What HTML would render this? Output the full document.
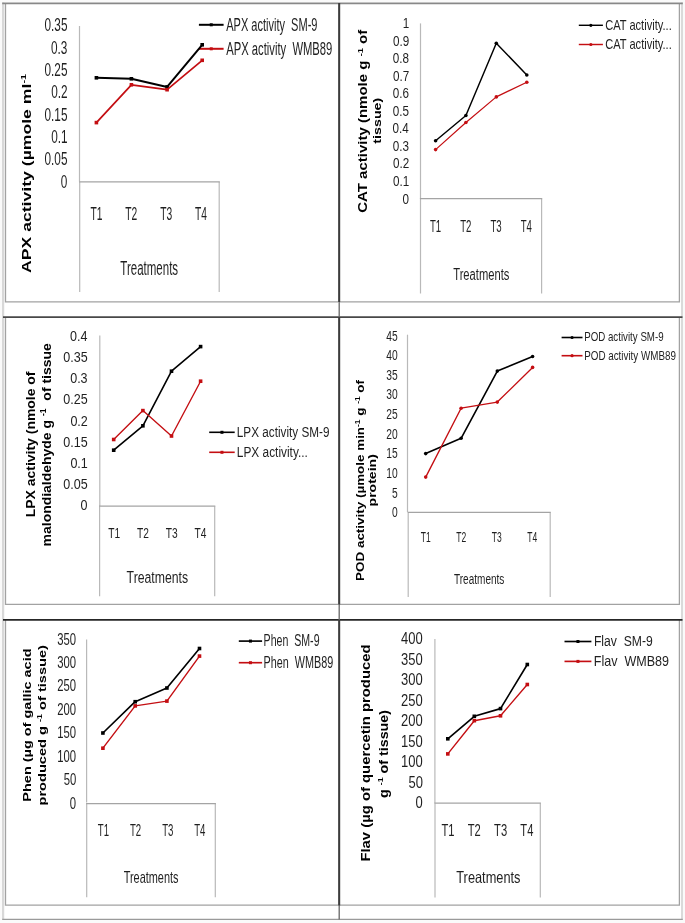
<!DOCTYPE html>
<html><head><meta charset="utf-8"><title>Antioxidant enzyme activity charts</title>
<style>html,body{margin:0;padding:0;background:#fafafa;}svg{display:block}</style></head>
<body><svg width="685" height="923" viewBox="0 0 685 923">
<rect x="2" y="2" width="681" height="918" fill="#fff"/>
<line x1="3.1" y1="2.5" x2="3.1" y2="919.5" stroke="#d8d8d8" stroke-width="2.2"/>
<line x1="682" y1="2.5" x2="682" y2="919.5" stroke="#d6d6d6" stroke-width="1.8"/>
<line x1="2.2" y1="919.3" x2="682.8" y2="919.3" stroke="#9a9a9a" stroke-width="1.3"/>
<!-- chart borders -->
<g fill="none" stroke-width="1.3">
<path d="M5.5,3.5 V301.8 H338.5" stroke="#a2a2a2"/>
<path d="M340,301.8 H679.4 V3.5" stroke="#a2a2a2"/>
<path d="M5.5,317.5 V604.3 H338.5" stroke="#a2a2a2"/>
<path d="M340,604.3 H679.4 V317.5" stroke="#a2a2a2"/>
<path d="M5.5,620 V905.2 H338.5" stroke="#a2a2a2"/>
<path d="M340,905.2 H679.4 V620" stroke="#a2a2a2"/>
</g>
<!-- table lines -->
<line x1="2.2" y1="3.4" x2="682.8" y2="3.4" stroke="#888" stroke-width="1.7"/>
<line x1="3" y1="317.2" x2="682.5" y2="317.2" stroke="#484848" stroke-width="1.8"/>
<line x1="3" y1="619.8" x2="682.5" y2="619.8" stroke="#262626" stroke-width="1.8"/>
<line x1="339.2" y1="3" x2="339.2" y2="919.5" stroke="#666" stroke-width="1.3"/>
<g stroke="#3c3c3c" stroke-width="2">
<line x1="339.2" y1="3" x2="339.2" y2="302"/>
<line x1="339.2" y1="317" x2="339.2" y2="604.5"/>
<line x1="339.2" y1="620" x2="339.2" y2="905.5"/>
</g>

<g id="c1"><text transform="translate(44.51,31.17) scale(0.6548,1)" font-family="'Liberation Sans', sans-serif" font-size="18.000" fill="#1f1f1f" style="white-space:pre"><tspan>0.35</tspan></text><text transform="translate(50.99,53.54) scale(0.6548,1)" font-family="'Liberation Sans', sans-serif" font-size="18.000" fill="#1f1f1f" style="white-space:pre"><tspan>0.3</tspan></text><text transform="translate(44.51,75.92) scale(0.6548,1)" font-family="'Liberation Sans', sans-serif" font-size="18.000" fill="#1f1f1f" style="white-space:pre"><tspan>0.25</tspan></text><text transform="translate(51.19,98.30) scale(0.6548,1)" font-family="'Liberation Sans', sans-serif" font-size="18.000" fill="#1f1f1f" style="white-space:pre"><tspan>0.2</tspan></text><text transform="translate(44.51,120.68) scale(0.6548,1)" font-family="'Liberation Sans', sans-serif" font-size="18.000" fill="#1f1f1f" style="white-space:pre"><tspan>0.15</tspan></text><text transform="translate(51.19,143.05) scale(0.6548,1)" font-family="'Liberation Sans', sans-serif" font-size="18.000" fill="#1f1f1f" style="white-space:pre"><tspan>0.1</tspan></text><text transform="translate(44.51,165.43) scale(0.6548,1)" font-family="'Liberation Sans', sans-serif" font-size="18.000" fill="#1f1f1f" style="white-space:pre"><tspan>0.05</tspan></text><text transform="translate(60.81,187.81) scale(0.6548,1)" font-family="'Liberation Sans', sans-serif" font-size="18.000" fill="#1f1f1f" style="white-space:pre"><tspan>0</tspan></text><text transform="translate(90.43,219.90) scale(0.5571,1)" font-family="'Liberation Sans', sans-serif" font-size="18.439" fill="#1f1f1f" style="white-space:pre"><tspan>T1</tspan></text><text transform="translate(125.30,219.90) scale(0.5571,1)" font-family="'Liberation Sans', sans-serif" font-size="18.439" fill="#1f1f1f" style="white-space:pre"><tspan>T2</tspan></text><text transform="translate(160.18,219.90) scale(0.5571,1)" font-family="'Liberation Sans', sans-serif" font-size="18.439" fill="#1f1f1f" style="white-space:pre"><tspan>T3</tspan></text><text transform="translate(194.97,219.90) scale(0.5571,1)" font-family="'Liberation Sans', sans-serif" font-size="18.439" fill="#1f1f1f" style="white-space:pre"><tspan>T4</tspan></text><text transform="translate(120.31,274.70) scale(0.5917,1)" font-family="'Liberation Sans', sans-serif" font-size="19.463" fill="#1f1f1f" style="white-space:pre"><tspan>Treatments</tspan></text><text transform="translate(226.20,30.60) scale(0.6029,1)" font-family="'Liberation Sans', sans-serif" font-size="18.293" fill="#1f1f1f" style="white-space:pre"><tspan>APX activity  SM-9</tspan></text><line x1="198.9" y1="24.8" x2="223.6" y2="24.8" stroke="#000" stroke-width="2.0"/><rect x="209.75" y="23.3" width="3" height="3" fill="#000"/><text transform="translate(226.20,55.40) scale(0.6298,1)" font-family="'Liberation Sans', sans-serif" font-size="17.854" fill="#1f1f1f" style="white-space:pre"><tspan>APX activity  WMB89</tspan></text><line x1="198.9" y1="48.8" x2="223.6" y2="48.8" stroke="#c40e12" stroke-width="2.0"/><rect x="209.75" y="47.3" width="3" height="3" fill="#c40e12"/><text transform="translate(30.90,272.99) rotate(-90) scale(1.4170,1)" font-family="'Liberation Sans', sans-serif" font-weight="bold" font-size="12.439" fill="#000" style="white-space:pre"><tspan>APX activity (µmole ml</tspan><tspan font-size="7.712" dy="-4.478">-1</tspan></text><line x1="79.5" y1="26" x2="79.5" y2="181.7" stroke="#b9b9b9" stroke-width="1.2"/><path d="M79.7,292 V181.8 M219.2,181.8 V292" fill="none" stroke="#b9b9b9" stroke-width="1.2"/><line x1="79.10000000000001" y1="181.8" x2="219.79999999999998" y2="181.8" stroke="#a4a4a4" stroke-width="1.3"/><polyline points="96.4,77.8 131.4,78.8 167.1,86.9 202.2,44.8" fill="none" stroke="#000" stroke-width="2.00" stroke-linejoin="round"/><rect x="94.60000000000001" y="76.0" width="3.6" height="3.6" fill="#000"/><rect x="129.6" y="77.0" width="3.6" height="3.6" fill="#000"/><rect x="165.29999999999998" y="85.10000000000001" width="3.6" height="3.6" fill="#000"/><rect x="200.39999999999998" y="43.0" width="3.6" height="3.6" fill="#000"/><polyline points="96.4,122.6 131.4,84.8 167.1,89.7 202.2,60.3" fill="none" stroke="#c40e12" stroke-width="1.70" stroke-linejoin="round"/><rect x="94.60000000000001" y="120.8" width="3.6" height="3.6" fill="#c40e12"/><rect x="129.6" y="83.0" width="3.6" height="3.6" fill="#c40e12"/><rect x="165.29999999999998" y="87.9" width="3.6" height="3.6" fill="#c40e12"/><rect x="200.39999999999998" y="58.5" width="3.6" height="3.6" fill="#c40e12"/></g><g id="c2"><text transform="translate(402.75,28.21) scale(0.7833,1)" font-family="'Liberation Sans', sans-serif" font-size="14.927" fill="#1f1f1f" style="white-space:pre"><tspan>1</tspan></text><text transform="translate(393.01,45.74) scale(0.7833,1)" font-family="'Liberation Sans', sans-serif" font-size="14.927" fill="#1f1f1f" style="white-space:pre"><tspan>0.9</tspan></text><text transform="translate(392.82,63.27) scale(0.7833,1)" font-family="'Liberation Sans', sans-serif" font-size="14.927" fill="#1f1f1f" style="white-space:pre"><tspan>0.8</tspan></text><text transform="translate(393.01,80.81) scale(0.7833,1)" font-family="'Liberation Sans', sans-serif" font-size="14.927" fill="#1f1f1f" style="white-space:pre"><tspan>0.7</tspan></text><text transform="translate(392.82,98.34) scale(0.7833,1)" font-family="'Liberation Sans', sans-serif" font-size="14.927" fill="#1f1f1f" style="white-space:pre"><tspan>0.6</tspan></text><text transform="translate(392.82,115.87) scale(0.7833,1)" font-family="'Liberation Sans', sans-serif" font-size="14.927" fill="#1f1f1f" style="white-space:pre"><tspan>0.5</tspan></text><text transform="translate(392.62,133.41) scale(0.7833,1)" font-family="'Liberation Sans', sans-serif" font-size="14.927" fill="#1f1f1f" style="white-space:pre"><tspan>0.4</tspan></text><text transform="translate(392.82,150.94) scale(0.7833,1)" font-family="'Liberation Sans', sans-serif" font-size="14.927" fill="#1f1f1f" style="white-space:pre"><tspan>0.3</tspan></text><text transform="translate(393.01,168.47) scale(0.7833,1)" font-family="'Liberation Sans', sans-serif" font-size="14.927" fill="#1f1f1f" style="white-space:pre"><tspan>0.2</tspan></text><text transform="translate(393.01,186.00) scale(0.7833,1)" font-family="'Liberation Sans', sans-serif" font-size="14.927" fill="#1f1f1f" style="white-space:pre"><tspan>0.1</tspan></text><text transform="translate(402.56,203.54) scale(0.7833,1)" font-family="'Liberation Sans', sans-serif" font-size="14.927" fill="#1f1f1f" style="white-space:pre"><tspan>0</tspan></text><text transform="translate(429.94,232.10) scale(0.5677,1)" font-family="'Liberation Sans', sans-serif" font-size="16.976" fill="#1f1f1f" style="white-space:pre"><tspan>T1</tspan></text><text transform="translate(460.21,232.10) scale(0.5677,1)" font-family="'Liberation Sans', sans-serif" font-size="16.976" fill="#1f1f1f" style="white-space:pre"><tspan>T2</tspan></text><text transform="translate(490.49,232.10) scale(0.5677,1)" font-family="'Liberation Sans', sans-serif" font-size="16.976" fill="#1f1f1f" style="white-space:pre"><tspan>T3</tspan></text><text transform="translate(520.68,232.10) scale(0.5677,1)" font-family="'Liberation Sans', sans-serif" font-size="16.976" fill="#1f1f1f" style="white-space:pre"><tspan>T4</tspan></text><text transform="translate(453.21,279.60) scale(0.6483,1)" font-family="'Liberation Sans', sans-serif" font-size="17.268" fill="#1f1f1f" style="white-space:pre"><tspan>Treatments</tspan></text><text transform="translate(605.14,30.10) scale(0.7233,1)" font-family="'Liberation Sans', sans-serif" font-size="15.366" fill="#1f1f1f" style="white-space:pre"><tspan>CAT activity...</tspan></text><line x1="578.8" y1="25.3" x2="602.9" y2="25.3" stroke="#000" stroke-width="1.45"/><circle cx="590.8499999999999" cy="25.3" r="1.6" fill="#000"/><text transform="translate(605.14,49.30) scale(0.7519,1)" font-family="'Liberation Sans', sans-serif" font-size="14.780" fill="#1f1f1f" style="white-space:pre"><tspan>CAT activity...</tspan></text><line x1="578.8" y1="44.5" x2="602.9" y2="44.5" stroke="#c40e12" stroke-width="1.45"/><circle cx="590.8499999999999" cy="44.5" r="1.6" fill="#c40e12"/><text transform="translate(367.00,212.75) rotate(-90) scale(1.2503,1)" font-family="'Liberation Sans', sans-serif" font-weight="bold" font-size="12.000" fill="#000" style="white-space:pre"><tspan>CAT activity (nmole g </tspan><tspan font-size="7.440" dy="-4.320">-1</tspan><tspan dy="4.320"> of</tspan></text><text transform="translate(380.80,143.64) rotate(-90) scale(1.4163,1)" font-family="'Liberation Sans', sans-serif" font-weight="bold" font-size="10.065" fill="#000" style="white-space:pre"><tspan>tissue)</tspan></text><line x1="420.5" y1="23.4" x2="420.5" y2="198.4" stroke="#b9b9b9" stroke-width="1.2"/><path d="M420.5,293.4 V198.6 M541.6,198.6 V293.4" fill="none" stroke="#b9b9b9" stroke-width="1.2"/><line x1="419.9" y1="198.6" x2="542.2" y2="198.6" stroke="#a4a4a4" stroke-width="1.3"/><polyline points="435.6,140.7 465.9,115.5 496.3,43.2 526.8,75" fill="none" stroke="#000" stroke-width="1.45" stroke-linejoin="round"/><circle cx="435.6" cy="140.7" r="1.8" fill="#000"/><circle cx="465.9" cy="115.5" r="1.8" fill="#000"/><circle cx="496.3" cy="43.2" r="1.8" fill="#000"/><circle cx="526.8" cy="75" r="1.8" fill="#000"/><polyline points="435.6,149.6 465.9,122.5 496.3,96.9 526.8,82.2" fill="none" stroke="#c40e12" stroke-width="1.23" stroke-linejoin="round"/><circle cx="435.6" cy="149.6" r="1.8" fill="#c40e12"/><circle cx="465.9" cy="122.5" r="1.8" fill="#c40e12"/><circle cx="496.3" cy="96.9" r="1.8" fill="#c40e12"/><circle cx="526.8" cy="82.2" r="1.8" fill="#c40e12"/></g><g id="c3"><text transform="translate(69.97,340.92) scale(0.8831,1)" font-family="'Liberation Sans', sans-serif" font-size="14.195" fill="#1f1f1f" style="white-space:pre"><tspan>0.4</tspan></text><text transform="translate(63.28,362.10) scale(0.8831,1)" font-family="'Liberation Sans', sans-serif" font-size="14.195" fill="#1f1f1f" style="white-space:pre"><tspan>0.35</tspan></text><text transform="translate(70.18,383.27) scale(0.8831,1)" font-family="'Liberation Sans', sans-serif" font-size="14.195" fill="#1f1f1f" style="white-space:pre"><tspan>0.3</tspan></text><text transform="translate(63.28,404.45) scale(0.8831,1)" font-family="'Liberation Sans', sans-serif" font-size="14.195" fill="#1f1f1f" style="white-space:pre"><tspan>0.25</tspan></text><text transform="translate(70.39,425.63) scale(0.8831,1)" font-family="'Liberation Sans', sans-serif" font-size="14.195" fill="#1f1f1f" style="white-space:pre"><tspan>0.2</tspan></text><text transform="translate(63.28,446.80) scale(0.8831,1)" font-family="'Liberation Sans', sans-serif" font-size="14.195" fill="#1f1f1f" style="white-space:pre"><tspan>0.15</tspan></text><text transform="translate(70.39,467.98) scale(0.8831,1)" font-family="'Liberation Sans', sans-serif" font-size="14.195" fill="#1f1f1f" style="white-space:pre"><tspan>0.1</tspan></text><text transform="translate(63.28,489.16) scale(0.8831,1)" font-family="'Liberation Sans', sans-serif" font-size="14.195" fill="#1f1f1f" style="white-space:pre"><tspan>0.05</tspan></text><text transform="translate(80.62,510.33) scale(0.8831,1)" font-family="'Liberation Sans', sans-serif" font-size="14.195" fill="#1f1f1f" style="white-space:pre"><tspan>0</tspan></text><text transform="translate(108.23,537.90) scale(0.6564,1)" font-family="'Liberation Sans', sans-serif" font-size="15.512" fill="#1f1f1f" style="white-space:pre"><tspan>T1</tspan></text><text transform="translate(137.01,537.90) scale(0.6564,1)" font-family="'Liberation Sans', sans-serif" font-size="15.512" fill="#1f1f1f" style="white-space:pre"><tspan>T2</tspan></text><text transform="translate(165.78,537.90) scale(0.6564,1)" font-family="'Liberation Sans', sans-serif" font-size="15.512" fill="#1f1f1f" style="white-space:pre"><tspan>T3</tspan></text><text transform="translate(194.47,537.90) scale(0.6564,1)" font-family="'Liberation Sans', sans-serif" font-size="15.512" fill="#1f1f1f" style="white-space:pre"><tspan>T4</tspan></text><text transform="translate(126.60,582.50) scale(0.7687,1)" font-family="'Liberation Sans', sans-serif" font-size="15.951" fill="#1f1f1f" style="white-space:pre"><tspan>Treatments</tspan></text><text transform="translate(236.82,437.40) scale(0.8358,1)" font-family="'Liberation Sans', sans-serif" font-size="14.049" fill="#1f1f1f" style="white-space:pre"><tspan>LPX activity SM-9</tspan></text><line x1="209.2" y1="432.3" x2="234.7" y2="432.3" stroke="#000" stroke-width="1.6"/><rect x="220.45" y="430.8" width="3" height="3" fill="#000"/><text transform="translate(236.81,457.20) scale(0.8456,1)" font-family="'Liberation Sans', sans-serif" font-size="14.049" fill="#1f1f1f" style="white-space:pre"><tspan>LPX activity...</tspan></text><line x1="209.2" y1="452.3" x2="234.7" y2="452.3" stroke="#c40e12" stroke-width="1.6"/><rect x="220.45" y="450.8" width="3" height="3" fill="#c40e12"/><text transform="translate(34.50,517.23) rotate(-90) scale(1.1489,1)" font-family="'Liberation Sans', sans-serif" font-weight="bold" font-size="12.146" fill="#000" style="white-space:pre"><tspan>LPX activity (nmole of</tspan></text><text transform="translate(50.60,546.43) rotate(-90) scale(1.0539,1)" font-family="'Liberation Sans', sans-serif" font-weight="bold" font-size="13.258" fill="#000" style="white-space:pre"><tspan>malondialdehyde g </tspan><tspan font-size="8.220" dy="-4.773">-1</tspan><tspan dy="4.773">  of tissue</tspan></text><line x1="99.8" y1="335.6" x2="99.8" y2="506.0" stroke="#b9b9b9" stroke-width="1.2"/><path d="M99.6,596.2 V506.2 M214.7,506.2 V596.2" fill="none" stroke="#b9b9b9" stroke-width="1.2"/><line x1="99.0" y1="506.2" x2="215.29999999999998" y2="506.2" stroke="#a4a4a4" stroke-width="1.3"/><polyline points="113.7,450.2 142.9,425.8 171.5,371.2 200.6,346.6" fill="none" stroke="#000" stroke-width="1.60" stroke-linejoin="round"/><rect x="111.9" y="448.4" width="3.6" height="3.6" fill="#000"/><rect x="141.1" y="424.0" width="3.6" height="3.6" fill="#000"/><rect x="169.7" y="369.4" width="3.6" height="3.6" fill="#000"/><rect x="198.79999999999998" y="344.8" width="3.6" height="3.6" fill="#000"/><polyline points="113.7,439.5 142.9,410.6 171.5,436 200.6,381.2" fill="none" stroke="#c40e12" stroke-width="1.36" stroke-linejoin="round"/><rect x="111.9" y="437.7" width="3.6" height="3.6" fill="#c40e12"/><rect x="141.1" y="408.8" width="3.6" height="3.6" fill="#c40e12"/><rect x="169.7" y="434.2" width="3.6" height="3.6" fill="#c40e12"/><rect x="198.79999999999998" y="379.4" width="3.6" height="3.6" fill="#c40e12"/></g><g id="c4"><text transform="translate(386.33,340.53) scale(0.7172,1)" font-family="'Liberation Sans', sans-serif" font-size="14.341" fill="#1f1f1f" style="white-space:pre"><tspan>45</tspan></text><text transform="translate(386.33,360.17) scale(0.7172,1)" font-family="'Liberation Sans', sans-serif" font-size="14.341" fill="#1f1f1f" style="white-space:pre"><tspan>40</tspan></text><text transform="translate(386.33,379.82) scale(0.7172,1)" font-family="'Liberation Sans', sans-serif" font-size="14.341" fill="#1f1f1f" style="white-space:pre"><tspan>35</tspan></text><text transform="translate(386.33,399.46) scale(0.7172,1)" font-family="'Liberation Sans', sans-serif" font-size="14.341" fill="#1f1f1f" style="white-space:pre"><tspan>30</tspan></text><text transform="translate(386.33,419.11) scale(0.7172,1)" font-family="'Liberation Sans', sans-serif" font-size="14.341" fill="#1f1f1f" style="white-space:pre"><tspan>25</tspan></text><text transform="translate(386.33,438.75) scale(0.7172,1)" font-family="'Liberation Sans', sans-serif" font-size="14.341" fill="#1f1f1f" style="white-space:pre"><tspan>20</tspan></text><text transform="translate(386.33,458.40) scale(0.7172,1)" font-family="'Liberation Sans', sans-serif" font-size="14.341" fill="#1f1f1f" style="white-space:pre"><tspan>15</tspan></text><text transform="translate(386.33,478.04) scale(0.7172,1)" font-family="'Liberation Sans', sans-serif" font-size="14.341" fill="#1f1f1f" style="white-space:pre"><tspan>10</tspan></text><text transform="translate(391.99,497.69) scale(0.7172,1)" font-family="'Liberation Sans', sans-serif" font-size="14.341" fill="#1f1f1f" style="white-space:pre"><tspan>5</tspan></text><text transform="translate(391.99,517.33) scale(0.7172,1)" font-family="'Liberation Sans', sans-serif" font-size="14.341" fill="#1f1f1f" style="white-space:pre"><tspan>0</tspan></text><text transform="translate(420.86,542.00) scale(0.5959,1)" font-family="'Liberation Sans', sans-serif" font-size="14.341" fill="#1f1f1f" style="white-space:pre"><tspan>T1</tspan></text><text transform="translate(456.36,542.00) scale(0.5959,1)" font-family="'Liberation Sans', sans-serif" font-size="14.341" fill="#1f1f1f" style="white-space:pre"><tspan>T2</tspan></text><text transform="translate(491.86,542.00) scale(0.5959,1)" font-family="'Liberation Sans', sans-serif" font-size="14.341" fill="#1f1f1f" style="white-space:pre"><tspan>T3</tspan></text><text transform="translate(527.29,542.00) scale(0.5959,1)" font-family="'Liberation Sans', sans-serif" font-size="14.341" fill="#1f1f1f" style="white-space:pre"><tspan>T4</tspan></text><text transform="translate(454.03,583.60) scale(0.6852,1)" font-family="'Liberation Sans', sans-serif" font-size="14.634" fill="#1f1f1f" style="white-space:pre"><tspan>Treatments</tspan></text><text transform="translate(584.19,341.40) scale(0.7826,1)" font-family="'Liberation Sans', sans-serif" font-size="12.439" fill="#1f1f1f" style="white-space:pre"><tspan>POD activity SM-9</tspan></text><line x1="561.6" y1="337.5" x2="582.5" y2="337.5" stroke="#000" stroke-width="1.6"/><circle cx="572.05" cy="337.5" r="1.6" fill="#000"/><text transform="translate(584.18,359.90) scale(0.7469,1)" font-family="'Liberation Sans', sans-serif" font-size="13.171" fill="#1f1f1f" style="white-space:pre"><tspan>POD activity WMB89</tspan></text><line x1="561.6" y1="355.7" x2="582.5" y2="355.7" stroke="#c40e12" stroke-width="1.6"/><circle cx="572.05" cy="355.7" r="1.6" fill="#c40e12"/><text transform="translate(363.60,580.90) rotate(-90) scale(1.2758,1)" font-family="'Liberation Sans', sans-serif" font-weight="bold" font-size="10.537" fill="#000" style="white-space:pre"><tspan>POD activity (µmole min</tspan><tspan font-size="6.533" dy="-3.793">-1</tspan><tspan dy="3.793"> g </tspan><tspan font-size="6.533" dy="-3.793">-1</tspan><tspan dy="3.793"> of</tspan></text><text transform="translate(376.20,506.44) rotate(-90) scale(1.3448,1)" font-family="'Liberation Sans', sans-serif" font-weight="bold" font-size="10.452" fill="#000" style="white-space:pre"><tspan>protein)</tspan></text><line x1="407.5" y1="334.7" x2="407.5" y2="512.0" stroke="#b9b9b9" stroke-width="1.2"/><path d="M408.2,596.9 V512.4 M550.2,512.4 V596.9" fill="none" stroke="#b9b9b9" stroke-width="1.2"/><line x1="407.59999999999997" y1="512.4" x2="550.8000000000001" y2="512.4" stroke="#a4a4a4" stroke-width="1.3"/><polyline points="425.7,453.6 461.1,438.3 497.3,371.1 532.6,356.5" fill="none" stroke="#000" stroke-width="1.60" stroke-linejoin="round"/><circle cx="425.7" cy="453.6" r="1.8" fill="#000"/><circle cx="461.1" cy="438.3" r="1.8" fill="#000"/><circle cx="497.3" cy="371.1" r="1.8" fill="#000"/><circle cx="532.6" cy="356.5" r="1.8" fill="#000"/><polyline points="425.7,477.1 461.1,408.2 497.3,402.1 532.6,367.4" fill="none" stroke="#c40e12" stroke-width="1.36" stroke-linejoin="round"/><circle cx="425.7" cy="477.1" r="1.8" fill="#c40e12"/><circle cx="461.1" cy="408.2" r="1.8" fill="#c40e12"/><circle cx="497.3" cy="402.1" r="1.8" fill="#c40e12"/><circle cx="532.6" cy="367.4" r="1.8" fill="#c40e12"/></g><g id="c5"><text transform="translate(57.23,644.54) scale(0.6777,1)" font-family="'Liberation Sans', sans-serif" font-size="16.683" fill="#1f1f1f" style="white-space:pre"><tspan>350</tspan></text><text transform="translate(57.23,667.99) scale(0.6777,1)" font-family="'Liberation Sans', sans-serif" font-size="16.683" fill="#1f1f1f" style="white-space:pre"><tspan>300</tspan></text><text transform="translate(57.23,691.45) scale(0.6777,1)" font-family="'Liberation Sans', sans-serif" font-size="16.683" fill="#1f1f1f" style="white-space:pre"><tspan>250</tspan></text><text transform="translate(57.23,714.90) scale(0.6777,1)" font-family="'Liberation Sans', sans-serif" font-size="16.683" fill="#1f1f1f" style="white-space:pre"><tspan>200</tspan></text><text transform="translate(57.23,738.35) scale(0.6777,1)" font-family="'Liberation Sans', sans-serif" font-size="16.683" fill="#1f1f1f" style="white-space:pre"><tspan>150</tspan></text><text transform="translate(57.23,761.80) scale(0.6777,1)" font-family="'Liberation Sans', sans-serif" font-size="16.683" fill="#1f1f1f" style="white-space:pre"><tspan>100</tspan></text><text transform="translate(63.64,785.26) scale(0.6777,1)" font-family="'Liberation Sans', sans-serif" font-size="16.683" fill="#1f1f1f" style="white-space:pre"><tspan>50</tspan></text><text transform="translate(69.86,808.71) scale(0.6777,1)" font-family="'Liberation Sans', sans-serif" font-size="16.683" fill="#1f1f1f" style="white-space:pre"><tspan>0</tspan></text><text transform="translate(97.84,835.90) scale(0.5827,1)" font-family="'Liberation Sans', sans-serif" font-size="16.537" fill="#1f1f1f" style="white-space:pre"><tspan>T1</tspan></text><text transform="translate(129.99,835.90) scale(0.5827,1)" font-family="'Liberation Sans', sans-serif" font-size="16.537" fill="#1f1f1f" style="white-space:pre"><tspan>T2</tspan></text><text transform="translate(162.14,835.90) scale(0.5827,1)" font-family="'Liberation Sans', sans-serif" font-size="16.537" fill="#1f1f1f" style="white-space:pre"><tspan>T3</tspan></text><text transform="translate(194.21,835.90) scale(0.5827,1)" font-family="'Liberation Sans', sans-serif" font-size="16.537" fill="#1f1f1f" style="white-space:pre"><tspan>T4</tspan></text><text transform="translate(123.72,882.90) scale(0.6266,1)" font-family="'Liberation Sans', sans-serif" font-size="17.415" fill="#1f1f1f" style="white-space:pre"><tspan>Treatments</tspan></text><text transform="translate(263.62,646.20) scale(0.6708,1)" font-family="'Liberation Sans', sans-serif" font-size="15.805" fill="#1f1f1f" style="white-space:pre"><tspan>Phen  SM-9</tspan></text><line x1="238.8" y1="641.1" x2="262.1" y2="641.1" stroke="#000" stroke-width="1.65"/><rect x="248.95000000000002" y="639.6" width="3" height="3" fill="#000"/><text transform="translate(263.60,667.60) scale(0.6841,1)" font-family="'Liberation Sans', sans-serif" font-size="15.805" fill="#1f1f1f" style="white-space:pre"><tspan>Phen  WMB89</tspan></text><line x1="238.8" y1="662.7" x2="262.1" y2="662.7" stroke="#c40e12" stroke-width="1.65"/><rect x="248.95000000000002" y="661.2" width="3" height="3" fill="#c40e12"/><text transform="translate(30.90,801.67) rotate(-90) scale(1.3768,1)" font-family="'Liberation Sans', sans-serif" font-weight="bold" font-size="10.537" fill="#000" style="white-space:pre"><tspan>Phen (µg of gallic acid</tspan></text><text transform="translate(45.70,805.47) rotate(-90) scale(1.3234,1)" font-family="'Liberation Sans', sans-serif" font-weight="bold" font-size="11.032" fill="#000" style="white-space:pre"><tspan>produced g </tspan><tspan font-size="6.840" dy="-3.972">-1</tspan><tspan dy="3.972"> of tissue)</tspan></text><line x1="86.6" y1="639.4" x2="86.6" y2="802.6" stroke="#b9b9b9" stroke-width="1.2"/><path d="M86.7,897.2 V803.6 M215.3,803.6 V897.2" fill="none" stroke="#b9b9b9" stroke-width="1.2"/><line x1="86.10000000000001" y1="803.6" x2="215.9" y2="803.6" stroke="#a4a4a4" stroke-width="1.3"/><polyline points="102.9,733 135.2,701.7 166.9,688 199.5,648.5" fill="none" stroke="#000" stroke-width="1.65" stroke-linejoin="round"/><rect x="101.10000000000001" y="731.2" width="3.6" height="3.6" fill="#000"/><rect x="133.39999999999998" y="699.9000000000001" width="3.6" height="3.6" fill="#000"/><rect x="165.1" y="686.2" width="3.6" height="3.6" fill="#000"/><rect x="197.7" y="646.7" width="3.6" height="3.6" fill="#000"/><polyline points="102.9,748.2 135.2,705.9 166.9,701.1 199.5,656.1" fill="none" stroke="#c40e12" stroke-width="1.40" stroke-linejoin="round"/><rect x="101.10000000000001" y="746.4000000000001" width="3.6" height="3.6" fill="#c40e12"/><rect x="133.39999999999998" y="704.1" width="3.6" height="3.6" fill="#c40e12"/><rect x="165.1" y="699.3000000000001" width="3.6" height="3.6" fill="#c40e12"/><rect x="197.7" y="654.3000000000001" width="3.6" height="3.6" fill="#c40e12"/></g><g id="c6"><text transform="translate(401.08,644.17) scale(0.8296,1)" font-family="'Liberation Sans', sans-serif" font-size="15.659" fill="#1f1f1f" style="white-space:pre"><tspan>400</tspan></text><text transform="translate(401.08,664.71) scale(0.8296,1)" font-family="'Liberation Sans', sans-serif" font-size="15.659" fill="#1f1f1f" style="white-space:pre"><tspan>350</tspan></text><text transform="translate(401.08,685.24) scale(0.8296,1)" font-family="'Liberation Sans', sans-serif" font-size="15.659" fill="#1f1f1f" style="white-space:pre"><tspan>300</tspan></text><text transform="translate(401.08,705.78) scale(0.8296,1)" font-family="'Liberation Sans', sans-serif" font-size="15.659" fill="#1f1f1f" style="white-space:pre"><tspan>250</tspan></text><text transform="translate(401.08,726.32) scale(0.8296,1)" font-family="'Liberation Sans', sans-serif" font-size="15.659" fill="#1f1f1f" style="white-space:pre"><tspan>200</tspan></text><text transform="translate(401.08,746.85) scale(0.8296,1)" font-family="'Liberation Sans', sans-serif" font-size="15.659" fill="#1f1f1f" style="white-space:pre"><tspan>150</tspan></text><text transform="translate(401.08,767.39) scale(0.8296,1)" font-family="'Liberation Sans', sans-serif" font-size="15.659" fill="#1f1f1f" style="white-space:pre"><tspan>100</tspan></text><text transform="translate(408.44,787.93) scale(0.8296,1)" font-family="'Liberation Sans', sans-serif" font-size="15.659" fill="#1f1f1f" style="white-space:pre"><tspan>50</tspan></text><text transform="translate(415.59,808.46) scale(0.8296,1)" font-family="'Liberation Sans', sans-serif" font-size="15.659" fill="#1f1f1f" style="white-space:pre"><tspan>0</tspan></text><text transform="translate(441.41,835.60) scale(0.7075,1)" font-family="'Liberation Sans', sans-serif" font-size="15.805" fill="#1f1f1f" style="white-space:pre"><tspan>T1</tspan></text><text transform="translate(467.74,835.60) scale(0.7075,1)" font-family="'Liberation Sans', sans-serif" font-size="15.805" fill="#1f1f1f" style="white-space:pre"><tspan>T2</tspan></text><text transform="translate(494.06,835.60) scale(0.7075,1)" font-family="'Liberation Sans', sans-serif" font-size="15.805" fill="#1f1f1f" style="white-space:pre"><tspan>T3</tspan></text><text transform="translate(520.30,835.60) scale(0.7075,1)" font-family="'Liberation Sans', sans-serif" font-size="15.805" fill="#1f1f1f" style="white-space:pre"><tspan>T4</tspan></text><text transform="translate(456.29,882.60) scale(0.7664,1)" font-family="'Liberation Sans', sans-serif" font-size="16.683" fill="#1f1f1f" style="white-space:pre"><tspan>Treatments</tspan></text><text transform="translate(593.88,645.90) scale(0.8415,1)" font-family="'Liberation Sans', sans-serif" font-size="14.488" fill="#1f1f1f" style="white-space:pre"><tspan>Flav  SM-9</tspan></text><line x1="564.5" y1="641.5" x2="591.4" y2="641.5" stroke="#000" stroke-width="1.65"/><rect x="576.45" y="640.0" width="3" height="3" fill="#000"/><text transform="translate(593.85,665.80) scale(0.8488,1)" font-family="'Liberation Sans', sans-serif" font-size="14.780" fill="#1f1f1f" style="white-space:pre"><tspan>Flav  WMB89</tspan></text><line x1="564.5" y1="661.4" x2="591.4" y2="661.4" stroke="#c40e12" stroke-width="1.65"/><rect x="576.45" y="659.9" width="3" height="3" fill="#c40e12"/><text transform="translate(370.30,861.59) rotate(-90) scale(1.1942,1)" font-family="'Liberation Sans', sans-serif" font-weight="bold" font-size="12.439" fill="#000" style="white-space:pre"><tspan>Flav (µg of quercetin produced</tspan></text><text transform="translate(388.00,797.98) rotate(-90) scale(1.1355,1)" font-family="'Liberation Sans', sans-serif" font-weight="bold" font-size="12.581" fill="#000" style="white-space:pre"><tspan>g </tspan><tspan font-size="7.800" dy="-4.529">-1</tspan><tspan dy="4.529"> of tissue)</tspan></text><line x1="434.9" y1="639.0" x2="434.9" y2="803.1" stroke="#b9b9b9" stroke-width="1.2"/><path d="M435.0,897.5 V803.2 M540.3,803.2 V897.5" fill="none" stroke="#b9b9b9" stroke-width="1.2"/><line x1="434.4" y1="803.2" x2="540.9" y2="803.2" stroke="#a4a4a4" stroke-width="1.3"/><polyline points="447.8,738.8 474.3,716.3 500.5,708.6 527.3,664.5" fill="none" stroke="#000" stroke-width="1.65" stroke-linejoin="round"/><rect x="446.0" y="737.0" width="3.6" height="3.6" fill="#000"/><rect x="472.5" y="714.5" width="3.6" height="3.6" fill="#000"/><rect x="498.7" y="706.8000000000001" width="3.6" height="3.6" fill="#000"/><rect x="525.5" y="662.7" width="3.6" height="3.6" fill="#000"/><polyline points="447.8,753.9 474.3,720.7 500.5,715.8 527.3,684.5" fill="none" stroke="#c40e12" stroke-width="1.40" stroke-linejoin="round"/><rect x="446.0" y="752.1" width="3.6" height="3.6" fill="#c40e12"/><rect x="472.5" y="718.9000000000001" width="3.6" height="3.6" fill="#c40e12"/><rect x="498.7" y="714.0" width="3.6" height="3.6" fill="#c40e12"/><rect x="525.5" y="682.7" width="3.6" height="3.6" fill="#c40e12"/></g>
</svg></body></html>
